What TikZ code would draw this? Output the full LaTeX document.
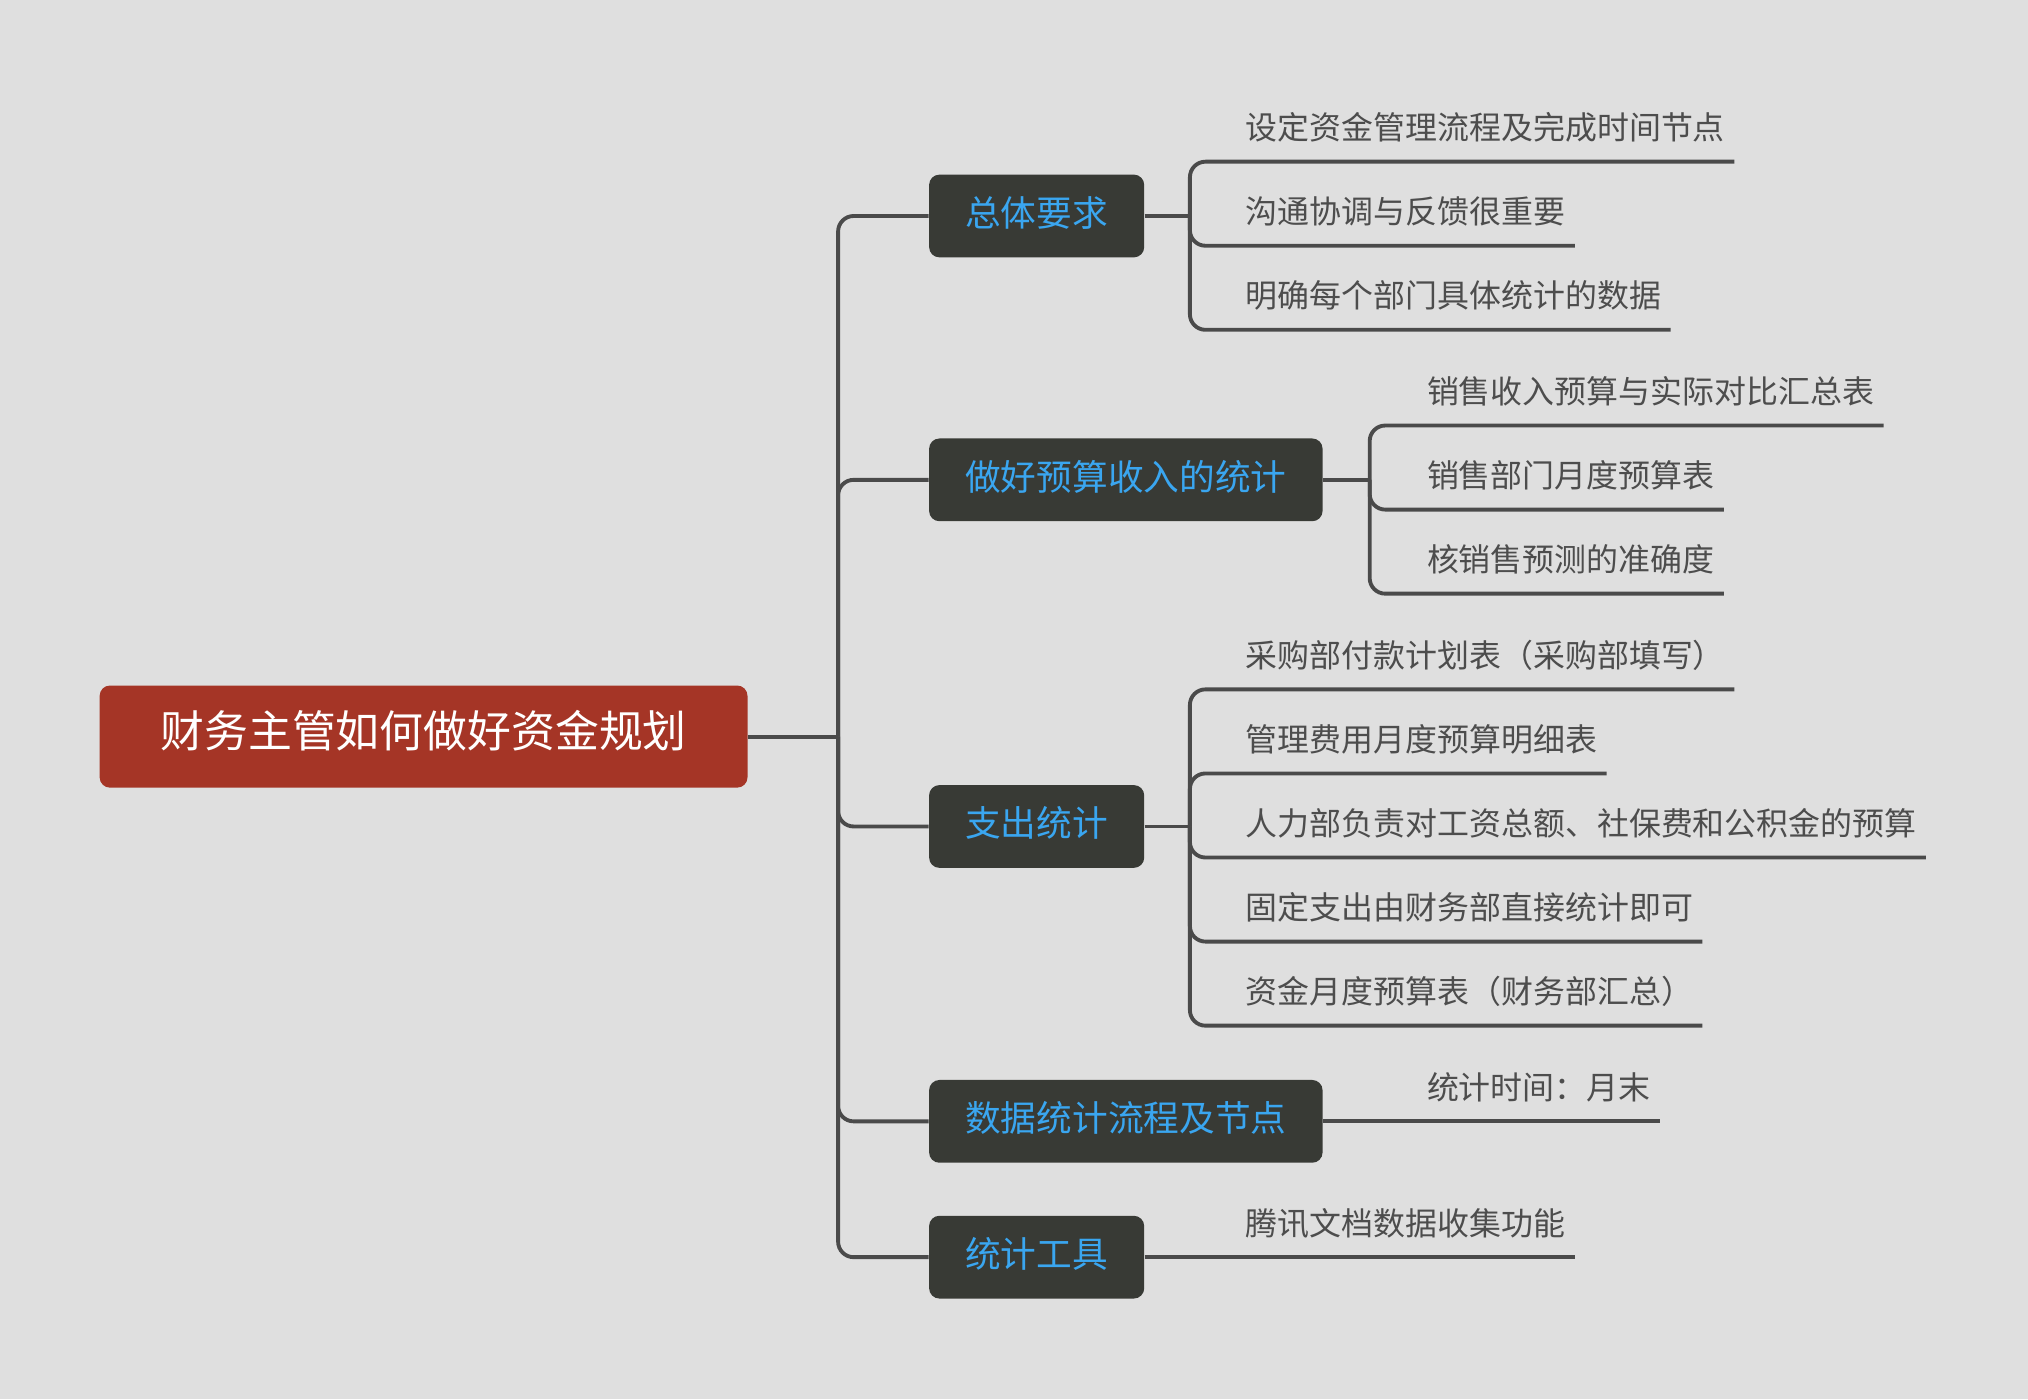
\documentclass[tikz,border=0pt]{standalone}
\usepackage{fontspec}
\setmainfont{Noto Sans CJK SC}
\definecolor{bgc}{HTML}{DFDFDF}
\definecolor{rootc}{HTML}{A53526}
\definecolor{boxc}{HTML}{383A35}
\definecolor{bluec}{HTML}{3AA6F0}
\definecolor{leafc}{HTML}{4D4D4D}
\definecolor{linec}{HTML}{4A4A4A}
\tikzset{
  rootbox/.style={fill=rootc, text=white, rounded corners=0.16cm, minimum width=10.02cm, minimum height=1.58cm,
    font=\fontsize{19.3pt}{22pt}\selectfont, text height=1.0em, text depth=0em, inner sep=0pt},
  mainbox/.style={fill=boxc, text=bluec, rounded corners=0.16cm, anchor=west, minimum height=1.28cm,
    inner xsep=0.56cm, inner ysep=0pt, font=\fontsize{15.7pt}{18pt}\selectfont, text height=0.95em, text depth=0.05em},
  leaf/.style={text=leafc, anchor=south west, inner xsep=0.14cm, inner ysep=0.292cm,
    font=\fontsize{14.05pt}{16pt}\selectfont, text height=0.88em, text depth=0.12em},
  conn/.style={draw=linec, line width=1.7pt, rounded corners=0.24cm},
}
\begin{document}
\begin{tikzpicture}[x=0.02cm,y=-0.02cm]
\fill[bgc] (0,0) rectangle (1568,1082);
\useasboundingbox (0,0) rectangle (1568,1082);

\node[rootbox] (root) at (327.5,569.5) {财务主管如何做好资金规划};

\node[mainbox] (b1) at (718,167) {总体要求};
\node[mainbox] (b2) at (718,371) {做好预算收入的统计};
\node[mainbox] (b3) at (718,639) {支出统计};
\node[mainbox] (b4) at (718,867) {数据统计流程及节点};
\node[mainbox] (b5) at (718,972) {统计工具};

\coordinate (t) at (648,569.5);
\draw[conn] (root.east) -- (t);
\foreach \b in {b1,b2,b3,b4,b5} { \draw[conn] (t) |- (\b.west); }

% group 1
\node[leaf] (l11) at (956,125) {设定资金管理流程及完成时间节点};
\node[leaf] (l12) at (956,190) {沟通协调与反馈很重要};
\node[leaf] (l13) at (956,255) {明确每个部门具体统计的数据};
\coordinate (j1) at (920,167);
\draw[conn] (b1.east) -- (j1);
\foreach \l in {l11,l12,l13} { \draw[conn] (j1) |- (\l.south east); }

% group 2
\node[leaf] (l21) at (1096,329) {销售收入预算与实际对比汇总表};
\node[leaf] (l22) at (1096,394) {销售部门月度预算表};
\node[leaf] (l23) at (1096,459) {核销售预测的准确度};
\coordinate (j2) at (1059,371);
\draw[conn] (b2.east) -- (j2);
\foreach \l in {l21,l22,l23} { \draw[conn] (j2) |- (\l.south east); }

% group 3
\node[leaf] (l31) at (956,533) {采购部付款计划表（采购部填写）};
\node[leaf] (l32) at (956,598) {管理费用月度预算明细表};
\node[leaf] (l33) at (956,663) {人力部负责对工资总额、社保费和公积金的预算};
\node[leaf] (l34) at (956,728) {固定支出由财务部直接统计即可};
\node[leaf] (l35) at (956,793) {资金月度预算表（财务部汇总）};
\coordinate (j3) at (920,639);
\draw[conn] (b3.east) -- (j3);
\foreach \l in {l31,l32,l33,l34,l35} { \draw[conn] (j3) |- (\l.south east); }

% group 4
\node[leaf] (l41) at (1096,867) {统计时间：月末};
\draw[conn] (b4.east) -- (l41.south east);

% group 5
\node[leaf] (l51) at (956,972) {腾讯文档数据收集功能};
\draw[conn] (b5.east) -- (l51.south east);
\end{tikzpicture}
\end{document}
